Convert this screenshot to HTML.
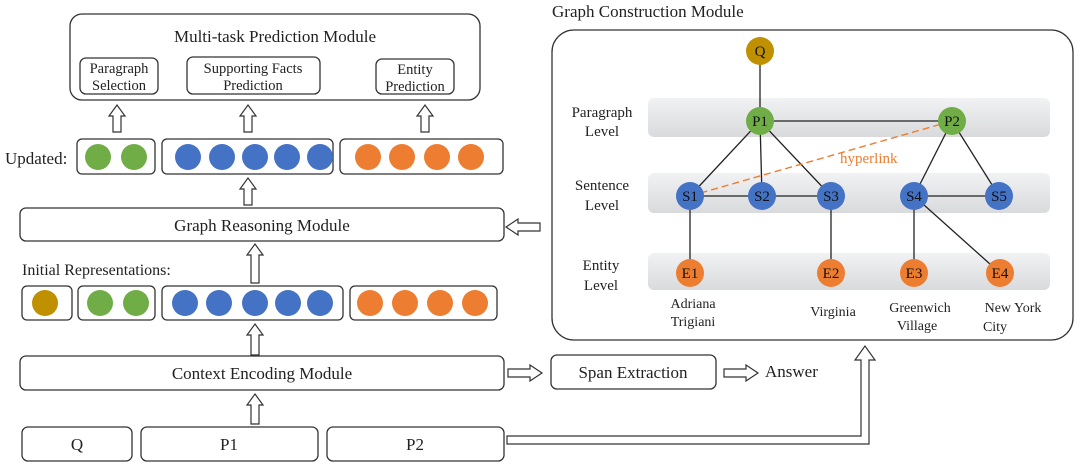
<!DOCTYPE html>
<html><head><meta charset="utf-8"><style>
body{margin:0;background:#fff}
svg{display:block;font-family:"Liberation Serif",serif}
</style></head><body>
<svg width="1080" height="467" viewBox="0 0 1080 467">
<defs>
<linearGradient id="band" x1="0" y1="0" x2="0" y2="1"><stop offset="0" stop-color="#f1f2f4"/><stop offset="1" stop-color="#d9dadc"/></linearGradient>
</defs>
<g fill="none" stroke="#333" stroke-width="1.3">
<rect x="70" y="14" width="410" height="86" rx="12"/>
<rect x="80" y="58" width="78" height="36" rx="6"/>
<rect x="187" y="57" width="133" height="37" rx="6"/>
<rect x="376" y="59" width="78" height="35" rx="6"/>
<rect x="77" y="139" width="78" height="35" rx="5"/>
<rect x="162" y="139" width="171" height="35" rx="5"/>
<rect x="340" y="139" width="163" height="35" rx="5"/>
<rect x="20" y="208" width="484" height="33" rx="6"/>
<rect x="22" y="286" width="50" height="34" rx="5"/>
<rect x="78" y="286" width="77" height="34" rx="5"/>
<rect x="162" y="286" width="181" height="34" rx="5"/>
<rect x="350" y="286" width="147" height="34" rx="5"/>
<rect x="20" y="356" width="484" height="34" rx="6"/>
<rect x="551" y="355" width="165" height="34" rx="6"/>
<rect x="22" y="427" width="110" height="34" rx="6"/>
<rect x="141" y="427" width="177" height="34" rx="6"/>
<rect x="327" y="427" width="177" height="34" rx="6"/>
<rect x="552" y="30" width="521" height="310" rx="22"/>
</g>
<g fill="#fff" stroke="#333" stroke-width="1.2">
<path d="M113,132 V116 H109 L117,105 L125,116 H121 V132 Z"/>
<path d="M244,132 V116 H240 L248,105 L256,116 H252 V132 Z"/>
<path d="M421,132 V116 H417 L425,105 L433,116 H429 V132 Z"/>
<path d="M244,205 V189 H240 L248,178 L256,189 H252 V205 Z"/>
<path d="M251,283 V255 H247 L255,244 L263,255 H259 V283 Z"/>
<path d="M251,355 V335 H247 L255,324 L263,335 H259 V355 Z"/>
<path d="M251,424 V405 H247 L255,394 L263,405 H259 V424 Z"/>
<path d="M540,223 H518 V219 L506,227 L518,235 V231 H540 Z"/>
<path d="M508,369 H530 V365 L542,373 L530,381 V377 H508 Z"/>
<path d="M724,369 H746 V365 L758,373 L746,381 V377 H724 Z"/>
<path d="M507,436 H861 V360 H855 L865,346 L875,360 H869 V444 H507 Z"/>
</g>
<g fill="#70ad47"><circle cx="98" cy="157" r="13"/><circle cx="134" cy="157" r="13"/><circle cx="100" cy="303" r="13"/><circle cx="136" cy="303" r="13"/></g>
<g fill="#4472c4"><circle cx="188" cy="157" r="13"/><circle cx="222" cy="157" r="13"/><circle cx="255" cy="157" r="13"/><circle cx="287" cy="157" r="13"/><circle cx="320" cy="157" r="13"/>
<circle cx="185" cy="303" r="13"/><circle cx="219" cy="303" r="13"/><circle cx="255" cy="303" r="13"/><circle cx="288" cy="303" r="13"/><circle cx="320" cy="303" r="13"/></g>
<g fill="#ed7d31"><circle cx="368" cy="157" r="13"/><circle cx="402" cy="157" r="13"/><circle cx="437" cy="157" r="13"/><circle cx="471" cy="157" r="13"/>
<circle cx="370" cy="303" r="13"/><circle cx="405" cy="303" r="13"/><circle cx="440" cy="303" r="13"/><circle cx="475" cy="303" r="13"/></g>
<circle cx="45" cy="303" r="13" fill="#bf9000"/>
<g fill="#222" font-size="17" text-anchor="middle">
<text x="275" y="42">Multi-task Prediction Module</text>
<text x="119" y="73" font-size="14.5">Paragraph</text><text x="119" y="90" font-size="14.5">Selection</text>
<text x="253" y="73" font-size="14.5">Supporting Facts</text><text x="253" y="90" font-size="14.5">Prediction</text>
<text x="415" y="74" font-size="14.5">Entity</text><text x="415" y="91" font-size="14.5">Prediction</text>
<text x="262" y="231">Graph Reasoning Module</text>
<text x="262" y="379">Context Encoding Module</text>
<text x="633" y="378">Span Extraction</text>
<text x="77" y="450">Q</text><text x="229" y="450">P1</text><text x="415" y="450">P2</text>
</g>
<text x="552" y="17" font-size="17" fill="#222">Graph Construction Module</text>
<text x="5" y="164" font-size="17" fill="#222">Updated:</text>
<text x="22" y="275" font-size="16" fill="#222">Initial Representations:</text>
<text x="765" y="377" font-size="17" fill="#222">Answer</text>
<rect x="648" y="98" width="402" height="39" rx="6" fill="url(#band)"/>
<rect x="648" y="173" width="402" height="40" rx="6" fill="url(#band)"/>
<rect x="648" y="253" width="402" height="37" rx="6" fill="url(#band)"/>
<g fill="#222" font-size="15" text-anchor="middle">
<text x="602" y="117">Paragraph</text><text x="602" y="136">Level</text>
<text x="602" y="190">Sentence</text><text x="602" y="210">Level</text>
<text x="601" y="270">Entity</text><text x="601" y="290">Level</text>
<text x="693" y="308" font-size="14">Adriana</text><text x="693" y="326" font-size="14">Trigiani</text>
<text x="833" y="316" font-size="14">Virginia</text>
<text x="920" y="312" font-size="14">Greenwich</text><text x="917" y="330" font-size="14">Village</text>
<text x="1013" y="312" font-size="14">New York</text><text x="995" y="331" font-size="14">City</text>
</g>
<g stroke="#222" stroke-width="1.3">
<line x1="760" y1="51" x2="760" y2="121"/><line x1="760" y1="121" x2="952" y2="121"/>
<line x1="760" y1="121" x2="690" y2="196"/><line x1="760" y1="121" x2="762" y2="196"/><line x1="760" y1="121" x2="831" y2="196"/>
<line x1="952" y1="121" x2="914" y2="196"/><line x1="952" y1="121" x2="999" y2="196"/>
<line x1="690" y1="196" x2="831" y2="196"/><line x1="914" y1="196" x2="999" y2="196"/>
<line x1="690" y1="196" x2="690" y2="273"/><line x1="831" y1="196" x2="831" y2="273"/>
<line x1="914" y1="196" x2="914" y2="273"/><line x1="914" y1="196" x2="1000" y2="273"/>
</g>
<line x1="690" y1="196" x2="952" y2="121" stroke="#ed7d31" stroke-width="1.4" stroke-dasharray="7,4"/>
<text x="840" y="163" font-size="15" fill="#ed7d31">hyperlink</text>
<g font-size="15" fill="#111" text-anchor="middle">
<circle cx="760" cy="51" r="14" fill="#bf9000"/><text x="760" y="56">Q</text>
<circle cx="760" cy="121" r="14" fill="#70ad47"/><text x="760" y="126">P1</text>
<circle cx="952" cy="121" r="14" fill="#70ad47"/><text x="952" y="126">P2</text>
<g fill="#4472c4">
<circle cx="690" cy="196" r="14"/><circle cx="762" cy="196" r="14"/><circle cx="831" cy="196" r="14"/><circle cx="914" cy="196" r="14"/><circle cx="999" cy="196" r="14"/></g>
<text x="690" y="201">S1</text><text x="762" y="201">S2</text><text x="831" y="201">S3</text><text x="914" y="201">S4</text><text x="999" y="201">S5</text>
<g fill="#ed7d31">
<circle cx="690" cy="273" r="14"/><circle cx="831" cy="273" r="14"/><circle cx="914" cy="273" r="14"/><circle cx="1000" cy="273" r="14"/></g>
<text x="690" y="278">E1</text><text x="831" y="278">E2</text><text x="914" y="278">E3</text><text x="1000" y="278">E4</text>
</g>
</svg>
</body></html>
